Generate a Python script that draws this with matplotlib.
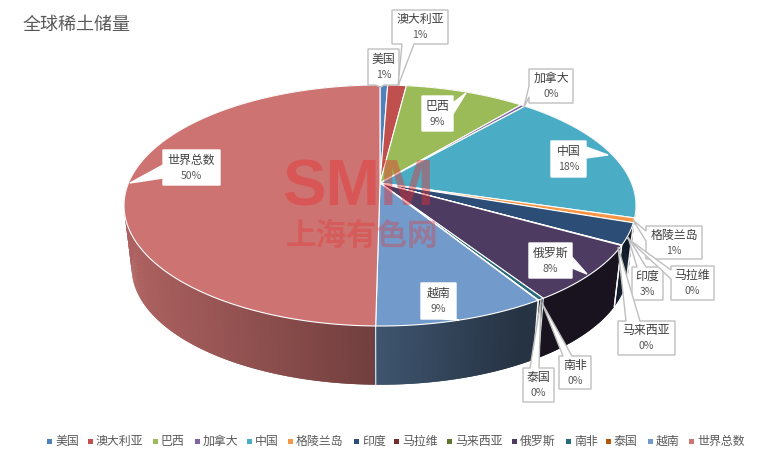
import numpy as np
import matplotlib
matplotlib.use("Agg")
import matplotlib.pyplot as plt
from matplotlib.patches import Polygon, Rectangle

plt.rcParams['font.family'] = ['Noto Sans CJK SC', 'DejaVu Sans']

# Rare earth reserves by country (tonnes, thousands)
countries = ["美国", "澳大利亚", "巴西", "加拿大", "中国", "格陵兰岛", "印度", "马拉维",
             "马来西亚", "俄罗斯", "南非", "泰国", "越南", "世界总数"]
reserves = [1400, 3400, 22000, 830, 44000, 1500, 6900, 136, 30, 18500, 790, 100, 22000, 120500]
title_text = "全球稀土储量"

colors = ["#4F81BD", "#C0504D", "#9BBB59", "#8064A2", "#4BACC6", "#F79646", "#2C4D75",
          "#772C2A", "#5F7530", "#4D3B62", "#276A7C", "#B65708", "#729ACA", "#CD7371"]

# Label box layout: (x0, y0, x1, y1), pointer tip, side carrying the pointer, pointer base, outlined
label_layout = {
    "美国": ((368, 49, 399, 85), (381, 87), "bottom", (375, 384), True),
    "澳大利亚": ((392, 10, 448, 44), (398, 86), "bottom", (402, 414), True),
    "巴西": ((422, 96, 453, 131), (466, 93), "right", (103, 114), False),
    "加拿大": ((529, 69, 573, 103), (524, 107), "left", (86, 97), True),
    "中国": ((551, 141, 586, 177), (608, 155), "right", (147, 158), False),
    "格陵兰岛": ((646, 226, 702, 259), (633, 220), "left", (231, 241), True),
    "印度": ((632, 267, 663, 300), (628, 237), "top", (637, 646), True),
    "马拉维": ((671, 266, 714, 300), (627, 238), "left", (270, 279), True),
    "马来西亚": ((618, 321, 675, 355), (618, 247), "top", (626, 640), True),
    "俄罗斯": ((529, 243, 572, 278), (587, 274), "right", (257, 268), False),
    "南非": ((559, 356, 591, 389), (542, 303), "top", (563, 572), True),
    "泰国": ((523, 368, 554, 402), (541, 300), "top", (530, 539), True),
    "越南": ((421, 283, 456, 319), (459, 320), "bottom", (441, 452), False),
    "世界总数": ((163, 150, 220, 185), (130, 183), "left", (165, 178), False),
}

# Legend swatch and text positions along the bottom row
legend_x = [49, 90, 155, 197, 249, 290, 356, 396, 449, 514, 568, 608, 650, 691]
legend_y = 441

# Perspective projection of the pie disc
CX, CY = 380.0, 183.0
WIDTH, DEPTH, TILT = 251.5, 116.3, 0.1867
BOTTOM_SCALE, BOTTOM_DROP = 0.97, 63.0


def top_xy(theta):
    u, v = np.sin(theta), np.cos(theta)
    w = 1 + TILT * v
    return WIDTH * u / w, DEPTH * v / w


def wall_shade(x):
    slope = 0.0012 if x < 375 else 0.0015
    return np.clip(0.55 - slope * (x - 375), 0.33, 0.95)


fig = plt.figure(figsize=(7.82, 4.61), dpi=100, facecolor="white")
ax = fig.add_axes([0, 0, 1, 1])
ax.set_xlim(0, 782)
ax.set_ylim(461, 0)
ax.axis("off")

values = np.array(reserves, dtype=float)
edges = np.concatenate([[0], np.cumsum(values)]) / values.sum() * 2 * np.pi
base_rgb = [np.array(matplotlib.colors.to_rgb(c)) for c in colors]

# Side walls, far segments first; each strip overlaps its neighbour to hide hairline gaps
segments = []
for i in range(len(values)):
    n = max(2, int((edges[i + 1] - edges[i]) / 0.008))
    angles = np.linspace(edges[i], edges[i + 1], n + 1)
    for a0, a1 in zip(angles[:-1], angles[1:]):
        segments.append((np.cos((a0 + a1) / 2), i, a0, a1))
segments.sort(key=lambda s: -s[0])
OVERLAP = 0.004
for _, i, a0, a1 in segments:
    x0, y0 = top_xy(a0 - OVERLAP)
    x1, y1 = top_xy(a1 + OVERLAP)
    s = BOTTOM_SCALE
    quad = [(CX + x0, CY - y0), (CX + x1, CY - y1),
            (CX + s * x1, CY - s * y1 + BOTTOM_DROP), (CX + s * x0, CY - s * y0 + BOTTOM_DROP)]
    shade = wall_shade(CX + (x0 + x1) / 2)
    ax.add_patch(Polygon(quad, closed=True, facecolor=base_rgb[i] * shade, edgecolor="none",
                         lw=0, zorder=2))

# Light seams between the walls of neighbouring slices
for a in edges[:-1]:
    if np.cos(a) < 0.2:
        x, y = top_xy(a)
        s = BOTTOM_SCALE
        ax.plot([CX + x, CX + s * x], [CY - y, CY - s * y + BOTTOM_DROP],
                color="white", lw=0.8, alpha=0.9, zorder=3)

# Top face of every slice
for i in range(len(values)):
    n = max(2, int((edges[i + 1] - edges[i]) / 0.01))
    x, y = top_xy(np.linspace(edges[i], edges[i + 1], n + 1))
    pts = np.column_stack([np.r_[0, x], np.r_[0, -y]]) + [CX, CY]
    ax.add_patch(Polygon(pts, closed=True, facecolor=colors[i], edgecolor="white",
                         lw=0.8, joinstyle="round", zorder=4))

# Watermark over the pie centre
ax.text(358, 188, "SMM", fontsize=47, fontweight="bold", family="Liberation Sans",
        color="#E83030", alpha=0.42, ha="center", va="center", zorder=5)
ax.text(362, 236, "上海有色网", fontsize=22, fontweight="bold", color="#E83030", alpha=0.33,
        ha="center", va="center", zorder=5)


def callout_vertices(box, tip, side, base):
    x0, y0, x1, y1 = box
    b0, b1 = base
    if side == "top":
        return [(x0, y0), (b0, y0), tip, (b1, y0), (x1, y0), (x1, y1), (x0, y1)]
    if side == "right":
        return [(x0, y0), (x1, y0), (x1, b0), tip, (x1, b1), (x1, y1), (x0, y1)]
    if side == "bottom":
        return [(x0, y0), (x1, y0), (x1, y1), (b1, y1), tip, (b0, y1), (x0, y1)]
    return [(x0, y0), (x1, y0), (x1, y1), (x0, y1), (x0, b1), tip, (x0, b0)]


# Data labels with their callouts
total = values.sum()
for name, value in zip(countries, reserves):
    box, tip, side, base, outlined = label_layout[name]
    verts = callout_vertices(box, tip, side, base)
    ax.add_patch(Polygon(verts, closed=True, facecolor="white",
                         edgecolor="#BFBFBF" if outlined else "white",
                         lw=1.0, joinstyle="miter", zorder=6))
    xc = (box[0] + box[2]) / 2
    yc = (box[1] + box[3]) / 2
    ax.text(xc, yc - 7.5, name, fontsize=8.6, color="#404040", ha="center", va="center", zorder=7)
    ax.text(xc, yc + 8, f"{value / total * 100:.0f}%", fontsize=7.6, color="#595959",
            ha="center", va="center", zorder=7)

ax.text(23, 25, title_text, fontsize=13, color="#595959", ha="left", va="center", zorder=7)

# Legend row
for name, color, x in zip(countries, colors, legend_x):
    ax.add_patch(Rectangle((x - 2.5, legend_y - 2.5), 5, 5, facecolor=color, edgecolor="none", zorder=7))
    ax.text(x + 6, legend_y, name, fontsize=8.6, color="#595959", ha="left", va="center", zorder=7)

fig.savefig("out.png", dpi=100, facecolor="white")
